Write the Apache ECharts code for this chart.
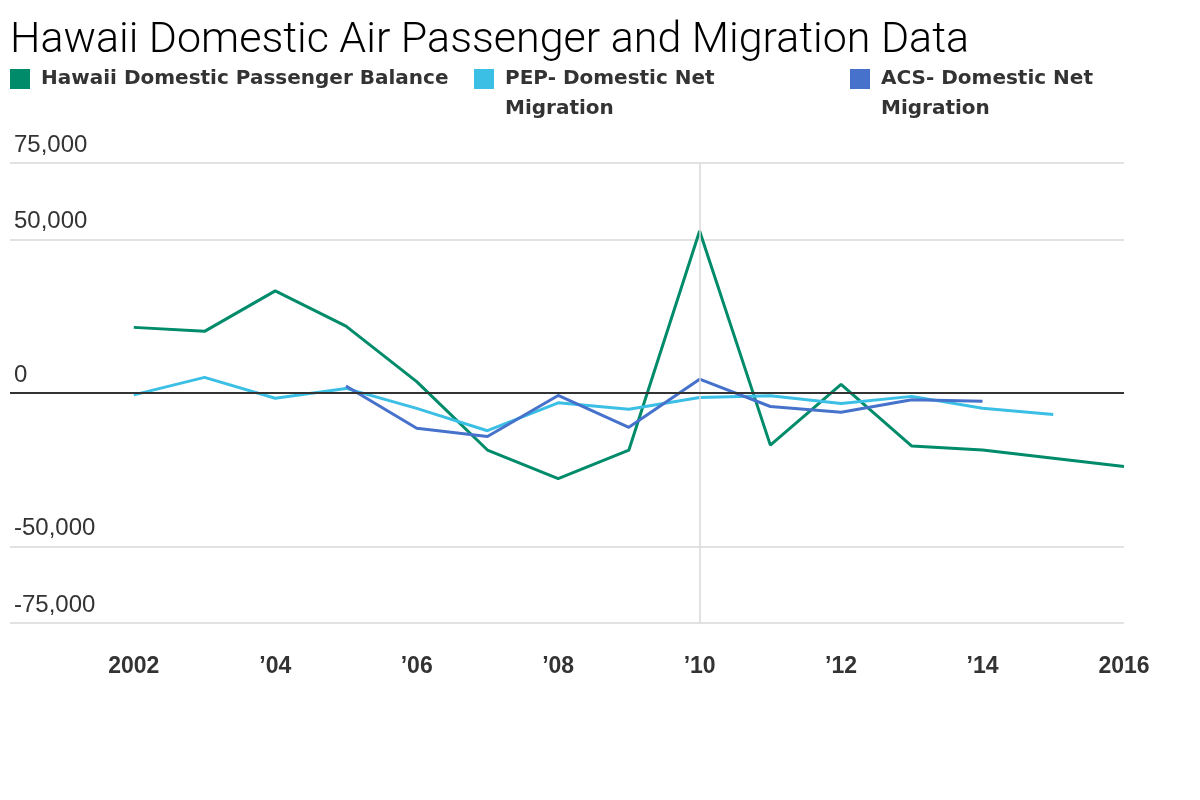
<!DOCTYPE html>
<html lang="en">
<head>
    <meta charset="UTF-8">
    <script src="https://cdn.jsdelivr.net/npm/echarts@6/dist/echarts.min.js"></script>
    <title>Hawaii Domestic Air Passenger and Migration Data</title>
    <style>
        html, body { margin: 0; padding: 0; background: #fff; }
    </style>
</head>
<body>
<div id="chart" style="width: 1200px;height:800px;"></div>
<script type="text/javascript">
    // 数据
    var years = [2002, 2003, 2004, 2005, 2006, 2007, 2008, 2009, 2010, 2011, 2012, 2013, 2014, 2015, 2016];
    var passengerBalance = [21400, 20100, 33300, 21800, 3700, -18600, -27900, -18600, 52800, -17000, 2800, -17300, -18600, -21300, -24000];
    var pepYears = [2002, 2003, 2004, 2005, 2006, 2007, 2008, 2009, 2010, 2011, 2012, 2013, 2014, 2015];
    var pepMigration = [-600, 5100, -1700, 1500, -5000, -12300, -3200, -5300, -1500, -900, -3400, -1100, -5000, -7000];
    var acsYears = [2005, 2006, 2007, 2008, 2009, 2010, 2011, 2012, 2013, 2014];
    var acsMigration = [2300, -11500, -14200, -800, -11200, 4500, -4400, -6300, -2200, -2700];
    var xTicks = [2002, 2004, 2006, 2008, 2010, 2012, 2014, 2016];

    function pairs(xs, ys) {
        return xs.map(function (x, i) { return [x, ys[i]]; });
    }

    var myChart = echarts.init(document.getElementById('chart'));
    var legendText = {
        fontFamily: 'DejaVu Sans',
        fontWeight: 'bold',
        fontSize: 20,
        color: '#333',
        lineHeight: 30,
        padding: [0, 0, 0, 6]
    };
    var option = {
        animation: false,
        title: {
            text: 'Hawaii Domestic Air Passenger and Migration Data',
            left: 10,
            top: 20,
            padding: 0,
            textStyle: {
                fontFamily: 'Roboto',
                fontWeight: 300,
                fontSize: 43,
                color: '#000'
            }
        },
        legend: [
            {
                data: ['Hawaii Domestic Passenger Balance'],
                left: 10, top: 64, padding: 0,
                icon: 'rect', itemWidth: 20, itemHeight: 20,
                selectedMode: false,
                textStyle: legendText
            },
            {
                data: ['PEP- Domestic Net Migration'],
                // 空的第一行让首行文字与色块对齐
                formatter: function () { return '\nPEP- Domestic Net\nMigration'; },
                left: 474, top: 34, padding: 0,
                icon: 'rect', itemWidth: 20, itemHeight: 20,
                selectedMode: false,
                textStyle: legendText
            },
            {
                data: ['ACS- Domestic Net Migration'],
                formatter: function () { return '\nACS- Domestic Net\nMigration'; },
                left: 850, top: 34, padding: 0,
                icon: 'rect', itemWidth: 20, itemHeight: 20,
                selectedMode: false,
                textStyle: legendText
            }
        ],
        grid: {
            left: 10,
            right: 76,
            top: 163,
            bottom: 177,
            containLabel: false
        },
        xAxis: {
            type: 'value',
            min: 2000.25,
            max: 2016,
            axisLine: { show: false },
            axisTick: { show: false },
            splitLine: { show: false },
            axisLabel: {
                customValues: xTicks,
                margin: 32,
                fontFamily: 'Liberation Sans',
                fontWeight: 'bold',
                fontSize: 23,
                color: '#333',
                formatter: function (v) {
                    if (v === 2002 || v === 2016) return String(v);
                    return '\u2019' + String(v).slice(2);
                }
            }
        },
        yAxis: {
            type: 'value',
            min: -75000,
            max: 75000,
            interval: 25000,
            axisLine: { show: false },
            axisTick: { show: false },
            splitLine: {
                show: true,
                lineStyle: {
                    // -75k, -50k, -25k, 0, 25k, 50k, 75k
                    color: ['#d9d9d9', '#d9d9d9', 'rgba(0,0,0,0)', 'rgba(0,0,0,0)', 'rgba(0,0,0,0)', '#d9d9d9', '#d9d9d9'],
                    width: 1.5
                }
            },
            axisLabel: {
                inside: true,
                margin: 4,
                verticalAlign: 'bottom',
                padding: [0, 0, 6, 0],
                fontFamily: 'Liberation Sans',
                fontSize: 24,
                color: '#333',
                formatter: function (v) {
                    if (v === 25000 || v === -25000) return '';
                    return v.toLocaleString('en-US');
                }
            }
        },
        series: [
            {
                name: 'refLines',
                type: 'line',
                data: [],
                z: 1,
                silent: true,
                markLine: {
                    silent: true,
                    symbol: 'none',
                    label: { show: false },
                    animation: false,
                    data: [
                        { xAxis: 2010, lineStyle: { color: '#d9d9d9', width: 1.5, type: 'solid' } },
                        { yAxis: 0, lineStyle: { color: '#333', width: 2, type: 'solid' } }
                    ]
                }
            },
            {
                name: 'Hawaii Domestic Passenger Balance',
                type: 'line',
                z: 3,
                data: pairs(years, passengerBalance),
                symbol: 'none',
                color: '#008b6a',
                lineStyle: { width: 3 }
            },
            {
                name: 'PEP- Domestic Net Migration',
                type: 'line',
                z: 3,
                data: pairs(pepYears, pepMigration),
                symbol: 'none',
                color: '#3cbfe5',
                lineStyle: { width: 3 }
            },
            {
                name: 'ACS- Domestic Net Migration',
                type: 'line',
                z: 3,
                data: pairs(acsYears, acsMigration),
                symbol: 'none',
                color: '#4672cc',
                lineStyle: { width: 3 }
            }
        ]
    };
    myChart.setOption(option);
</script>
</body>
</html>
